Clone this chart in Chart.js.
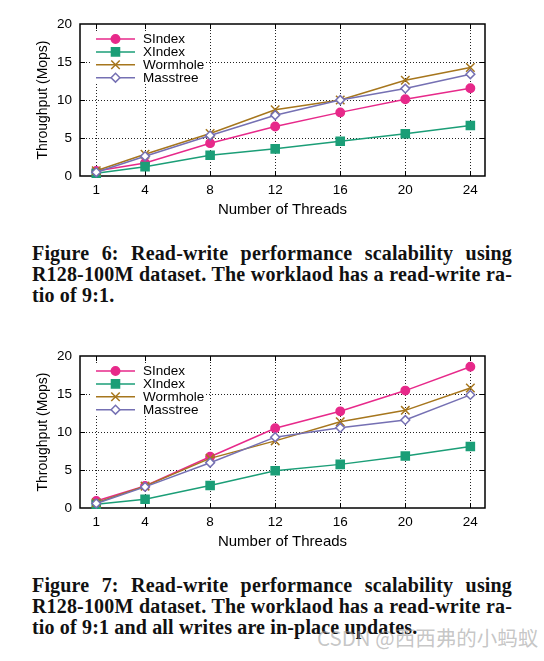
<!DOCTYPE html>
<html>
<head>
<meta charset="utf-8">
<script src="https://cdn.jsdelivr.net/npm/chart.js@4.4.1/dist/chart.umd.min.js"></script>
<style>
  html, body { margin: 0; padding: 0; background: #fff; }
  body { position: relative; width: 544px; height: 661px; overflow: hidden; }
  .fig { position: absolute; left: 0; width: 544px; height: 230px; }
  .caption {
    position: absolute; left: 32px; width: 480px;
    font-family: 'Liberation Serif', serif; font-weight: bold;
    color: #111; line-height: 21.2px; font-size: 20px;
  }
  .caption div { text-align: justify; text-align-last: justify; }
  .caption div.last { text-align-last: left; }
  .watermark {
    position: absolute; left: 317px; top: 627px;
    font-family: 'Noto Sans CJK SC', sans-serif; font-size: 20.5px; line-height: 20.5px;
    color: rgba(150, 150, 150, 0.55); white-space: nowrap;
  }
</style>
</head>
<body>
<div class="fig" style="top:0"><canvas id="fig6"></canvas></div>
<div class="caption" style="top:243px">
  <div>Figure 6: Read-write performance scalability using</div>
  <div>R128-100M dataset. The worklaod has a read-write ra-</div>
  <div class="last">tio of 9:1.</div>
</div>
<div class="fig" style="top:332px"><canvas id="fig7"></canvas></div>
<div class="caption" style="top:575px">
  <div>Figure 7: Read-write performance scalability using</div>
  <div>R128-100M dataset. The worklaod has a read-write ra-</div>
  <div class="last">tio of 9:1 and all writes are in-place updates.</div>
</div>
<div class="watermark">CSDN @西西弗的小蚂蚁</div>

<script>
// --- data ---
const THREADS = [1, 4, 8, 12, 16, 20, 24];
const Y_TICKS = [0, 5, 10, 15, 20];
const NAMES = ['SIndex', 'XIndex', 'Wormhole', 'Masstree'];

const fig6SIndex   = [0.65, 1.72, 4.32, 6.52, 8.37, 10.09, 11.54];
const fig6XIndex   = [0.35, 1.23, 2.73, 3.57, 4.58, 5.55, 6.65];
const fig6Wormhole = [0.7, 2.86, 5.6, 8.72, 10.0, 12.6, 14.27];
const fig6Masstree = [0.5, 2.6, 5.33, 8.0, 10.0, 11.5, 13.39];

const fig7SIndex   = [0.93, 2.9, 6.75, 10.5, 12.72, 15.45, 18.59];
const fig7XIndex   = [0.49, 1.15, 2.96, 4.9, 5.74, 6.84, 8.08];
const fig7Wormhole = [0.7, 2.88, 6.53, 8.83, 11.35, 12.85, 15.8];
const fig7Masstree = [0.6, 2.78, 5.96, 9.32, 10.55, 11.57, 14.88];

// gnuplot-ish look for each series (Dark2 colours)
const STYLES = [
  { color: '#e7298a', pointStyle: 'circle', radius: 4.2, fill: '#e7298a', order: 3 },
  { color: '#1b9e77', pointStyle: 'rect', radius: 5.7, fill: '#1b9e77', order: 2 },
  { color: '#a6761d', pointStyle: 'crossRot', radius: 6, fill: '#a6761d', order: 1 },
  { color: '#7570b3', pointStyle: 'rectRot', radius: 4.4, fill: '#ffffff', order: 0 },
];

const FONT = 'Liberation Sans';

// dotted grid, box border and inward tick marks, all placed through the scales
const framePlugin = {
  id: 'frame',
  beforeDatasetsDraw(chart) {
    const { ctx, chartArea: a, scales: { x, y } } = chart;
    ctx.save();
    ctx.strokeStyle = '#222';
    ctx.lineWidth = 1;
    ctx.setLineDash([1, 2]);
    ctx.beginPath();
    THREADS.forEach((v) => {
      const px = Math.round(x.getPixelForValue(v)) + 0.5;
      ctx.moveTo(px, a.top);
      ctx.lineTo(px, a.bottom);
    });
    Y_TICKS.slice(1, -1).forEach((v) => {
      const py = Math.round(y.getPixelForValue(v)) + 0.5;
      ctx.moveTo(a.left, py);
      ctx.lineTo(a.right, py);
    });
    ctx.stroke();

    ctx.setLineDash([]);
    ctx.strokeStyle = '#000';
    ctx.beginPath();
    THREADS.forEach((v) => {
      const px = Math.round(x.getPixelForValue(v)) + 0.5;
      ctx.moveTo(px, a.bottom); ctx.lineTo(px, a.bottom - 5);
      ctx.moveTo(px, a.top); ctx.lineTo(px, a.top + 5);
    });
    Y_TICKS.slice(1, -1).forEach((v) => {
      const py = Math.round(y.getPixelForValue(v)) + 0.5;
      ctx.moveTo(a.left, py); ctx.lineTo(a.left + 5, py);
      ctx.moveTo(a.right, py); ctx.lineTo(a.right - 5, py);
    });
    ctx.stroke();

    ctx.lineWidth = 1.5;
    ctx.strokeRect(a.left, a.top, a.right - a.left, a.bottom - a.top);
    ctx.restore();
  },
};

// key in the top-left corner of the plot, opaque like gnuplot's
const keyPlugin = {
  id: 'key',
  afterDatasetsDraw(chart) {
    const { ctx, chartArea: a } = chart;
    ctx.save();
    ctx.fillStyle = '#fff';
    ctx.fillRect(a.left + 12, a.top + 7, 113, 52);
    ctx.font = `13.5px "${FONT}"`;
    ctx.textBaseline = 'middle';
    chart.data.datasets.forEach((ds, i) => {
      const st = STYLES[i];
      const yy = a.top + 15 + i * 12.9;
      ctx.strokeStyle = st.color;
      ctx.lineWidth = 1.5;
      ctx.beginPath();
      ctx.moveTo(a.left + 16, yy);
      ctx.lineTo(a.left + 55, yy);
      ctx.stroke();
      ctx.fillStyle = st.fill;
      Chart.helpers.drawPoint(ctx, {
        pointStyle: st.pointStyle, radius: st.radius, rotation: 0, borderWidth: 1.5,
      }, a.left + 35.5, yy);
      ctx.fillStyle = '#000';
      ctx.fillText(ds.label, a.left + 63, yy + 0.5);
    });
    ctx.restore();
  },
};

function makeChart(id, seriesList) {
  const datasets = seriesList.map((vals, i) => {
    const st = STYLES[i];
    return {
      label: NAMES[i],
      data: THREADS.map((t, j) => ({ x: t, y: vals[j] })),
      borderColor: st.color,
      backgroundColor: st.fill,
      borderWidth: 1.5,
      pointStyle: st.pointStyle,
      pointRadius: st.radius,
      pointBorderWidth: 1.5,
      pointBorderColor: st.color,
      pointBackgroundColor: st.fill,
      tension: 0,
      order: st.order,
      clip: false,
    };
  });

  return new Chart(document.getElementById(id), {
    type: 'line',
    data: { datasets },
    plugins: [framePlugin, keyPlugin],
    options: {
      responsive: true,
      maintainAspectRatio: false,
      animation: false,
      layout: { padding: { left: 0, top: 24, right: 59, bottom: 0 } },
      plugins: { legend: { display: false }, tooltip: { enabled: false } },
      scales: {
        x: {
          type: 'linear',
          min: 0,
          max: 24.9,
          afterBuildTicks: (s) => { s.ticks = THREADS.map((v) => ({ value: v })); },
          afterFit: (s) => { s.height = 54; },
          grid: { display: false, drawTicks: false },
          border: { display: false },
          ticks: { color: '#000', padding: 6, font: { family: FONT, size: 13.5 }, maxRotation: 0 },
          title: {
            display: true, text: 'Number of Threads', color: '#000',
            font: { family: FONT, size: 15 }, padding: { top: 0, bottom: 11 },
          },
        },
        y: {
          min: 0,
          max: 20,
          afterBuildTicks: (s) => { s.ticks = Y_TICKS.map((v) => ({ value: v })); },
          afterFit: (s) => { s.width = 80; },
          grid: { display: false, drawTicks: false },
          border: { display: false },
          ticks: { color: '#000', padding: 8, font: { family: FONT, size: 13.5 } },
          title: {
            display: true, text: 'Throughput (Mops)', color: '#000',
            font: { family: FONT, size: 14 }, padding: { top: 34.6, bottom: 0 },
          },
        },
      },
    },
  });
}

// tighten letter spacing so the un-stretched second caption line just fills the column
(function fitCaptions() {
  const line = 'R128-100M dataset. The worklaod has a read-write ra-';
  const probe = document.createElement('canvas').getContext('2d');
  probe.font = 'bold 20px "Liberation Serif"';
  const w = probe.measureText(line).width;
  const ls = Math.floor(((478 - w) / line.length) * 100) / 100;
  document.querySelectorAll('.caption').forEach((el) => { el.style.letterSpacing = ls + 'px'; });
})();

makeChart('fig6', [fig6SIndex, fig6XIndex, fig6Wormhole, fig6Masstree]);
makeChart('fig7', [fig7SIndex, fig7XIndex, fig7Wormhole, fig7Masstree]);
</script>
</body>
</html>
